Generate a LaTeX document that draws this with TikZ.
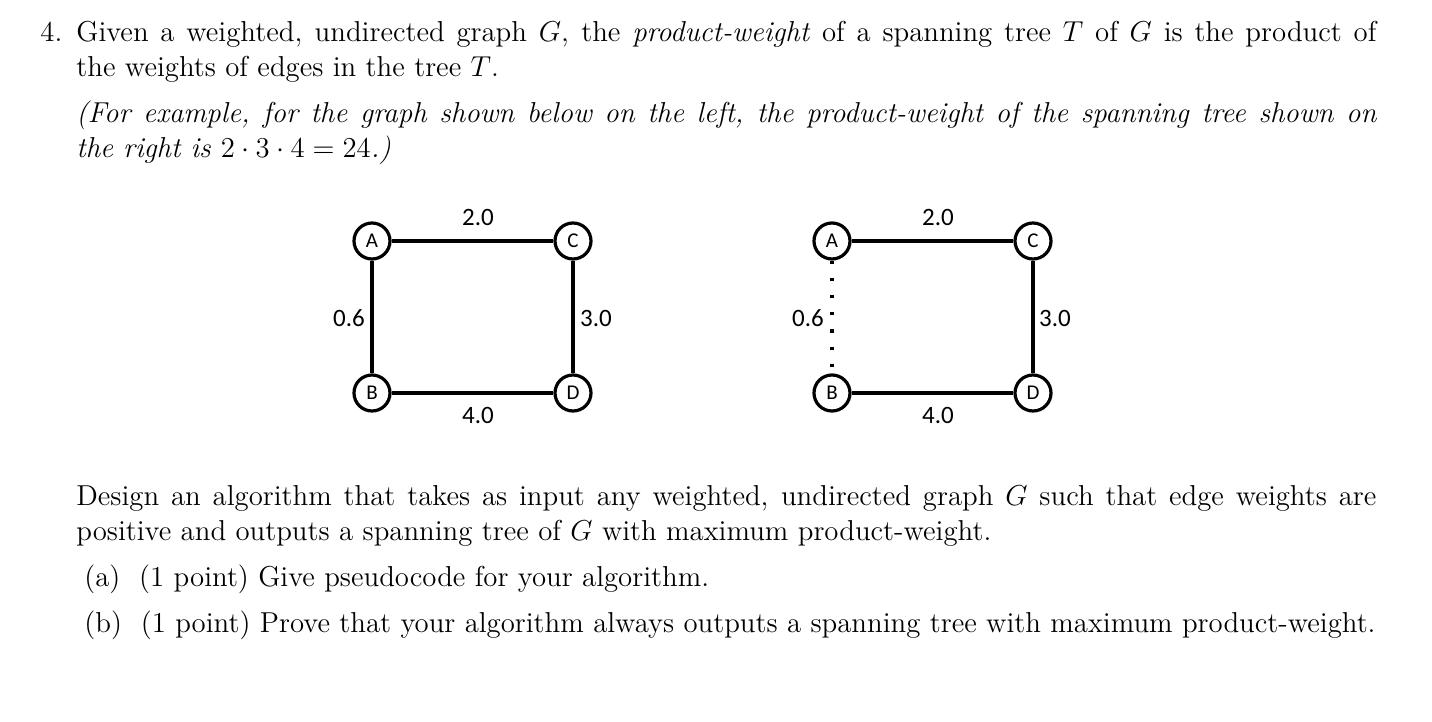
\documentclass[tikz,border=0pt]{standalone}
\usepackage{fontspec}
\newfontfamily\gfont{Carlito}
\begin{document}
\begin{tikzpicture}[x=0.5pt,y=-0.5pt,
  vtx/.style={circle,draw,line width=1.6pt,minimum size=18pt,inner sep=0pt,font=\gfont\fontsize{10.5}{12}\selectfont},
  edg/.style={line width=1.6pt},
  dotedg/.style={line width=1.6pt,dash pattern=on 1.6pt off 7pt},
  wl/.style={font=\gfont\fontsize{12.5}{14}\selectfont,inner sep=0pt},
  txt/.style={anchor=base west,inner sep=0pt,font=\fontsize{14.4}{17.5}\selectfont}]
\useasboundingbox (0,0) rectangle (1432,722);
\node[txt] (n4) at (40,42) {4.};
\node[txt,text width=650pt,align=justify] (p1) at (76,42) {Given a weighted, undirected graph $G$, the \emph{product-weight} of a spanning tree $T$ of $G$ is the product of\linebreak the weights of edges in the tree $T$.};
\node[txt,text width=650pt,align=justify] (p2) at (76,123) {\itshape (For example, for the graph shown below on the left, the product-weight of the spanning tree shown on\linebreak the right is $2\cdot3\cdot4=24$.)};
\node[txt,text width=650pt,align=justify] (p3) at (76,505) {Design an algorithm that takes as input any weighted, undirected graph $G$ such that edge weights are\linebreak positive and outputs a spanning tree of $G$ with maximum product-weight.};
\node[txt] (pa) at (84,586) {(a)\ \ (1 point)\ Give pseudocode for your algorithm.};
\node[txt] (pb) at (84,632) {(b)\ \ (1 point)\ Prove that your algorithm always outputs a spanning tree with maximum product-weight.};
% left graph
\node[vtx] (A) at (372,241) {A};
\node[vtx] (C) at (573,241) {C};
\node[vtx] (B) at (372,393) {B};
\node[vtx] (D) at (573,393) {D};
\draw[edg] (A) -- (C) (B) -- (D) (A) -- (B) (C) -- (D);
\node[wl] (l1) at (478,217) {2.0};
\node[wl] (l2) at (478,415) {4.0};
\node[wl] (l3) at (349,318) {0.6};
\node[wl] (l4) at (596,318) {3.0};
% right graph
\node[vtx] (A2) at (832,241) {A};
\node[vtx] (C2) at (1033,241) {C};
\node[vtx] (B2) at (832,393) {B};
\node[vtx] (D2) at (1033,393) {D};
\draw[edg] (A2) -- (C2) (B2) -- (D2) (C2) -- (D2);
\draw[dotedg] (A2) -- (B2);
\node[wl] (r1) at (938,217) {2.0};
\node[wl] (r2) at (938,415) {4.0};
\node[wl] (r3) at (808,318) {0.6};
\node[wl] (r4) at (1055,318) {3.0};
\end{tikzpicture}
\end{document}
